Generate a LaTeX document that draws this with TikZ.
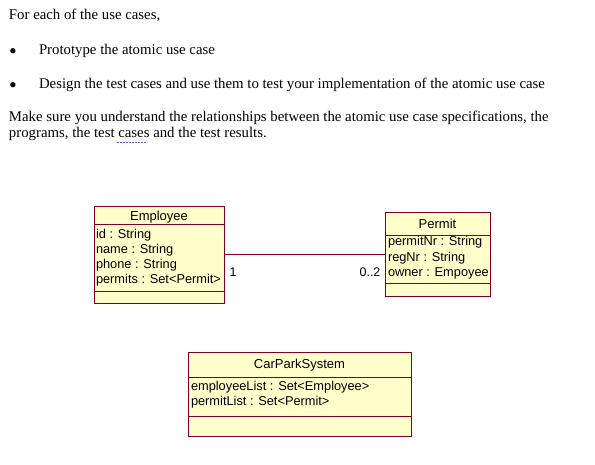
\documentclass[tikz,border=0pt]{standalone}
\usepackage{fontspec}
\setmainfont{Liberation Serif}
\newfontfamily\umlfont{Liberation Sans}
\definecolor{umlred}{RGB}{128,0,32}
\definecolor{umlfill}{RGB}{255,255,204}
\definecolor{spellblue}{RGB}{90,90,240}
\tikzset{
  bodytext/.style={inner sep=0pt,outer sep=0pt,anchor=base west,font=\fontsize{14.8}{17}\selectfont},
  bulletmark/.style={inner sep=0pt,outer sep=0pt,anchor=base west,font=\fontsize{22}{22}\selectfont},
  classbox/.style={draw=umlred,fill=umlfill,line width=0.8pt,inner sep=0pt,outer sep=0pt,anchor=north west},
  classrule/.style={draw=umlred,line width=0.8pt},
  classname/.style={inner sep=0pt,outer sep=0pt,anchor=base,font=\umlfont\fontsize{13}{15}\selectfont},
  attr/.style={inner sep=0pt,outer sep=0pt,anchor=base west,font=\umlfont\fontsize{12.8}{15}\selectfont},
  multlabel/.style={inner sep=0pt,outer sep=0pt,anchor=base,font=\umlfont\fontsize{12.5}{15}\selectfont}
}
\begin{document}
\begin{tikzpicture}[x=1pt,y=-1pt]
\path[use as bounding box] (0,0) rectangle (595,465);
% instructions
\node[bodytext] (intro) at (9,20) {For each of the use cases,};
\node[bulletmark] (bulletA) at (9.2,58.5) {•};
\node[bodytext] (stepA) at (39,55) {Prototype the atomic use case};
\node[bulletmark] (bulletB) at (9.2,92.5) {•};
\node[bodytext] (stepB) at (39,89) {Design the test cases and use them to test your implementation of the atomic use case};
\node[bodytext] (noteA) at (9,122) {Make sure you understand the relationships between the atomic use case specifications, the};
\node[bodytext] (noteB) at (9,138) {programs, the test cases and the test results.};
\draw[spellblue,dash pattern=on 2pt off 1pt,line width=1.1pt] (117,142.5) -- (147,142.5);
% Employee class
\node[classbox,minimum width=130pt,minimum height=97pt] (employee) at (94,206) {};
\draw[classrule] (94,224.5) -- (224,224.5);
\draw[classrule] (94,291.5) -- (224,291.5);
\node[classname] (employeeName) at (159,221) {Employee};
\node[attr] (empId) at (96,238.5) {id : String};
\node[attr] (empName) at (96,253.5) {name : String};
\node[attr] (empPhone) at (96,268.5) {phone : String};
\node[attr] (empPermits) at (96,283.5) {permits : Set<Permit>};
% Permit class
\node[classbox,minimum width=105pt,minimum height=84pt] (permit) at (385,212.5) {};
\draw[classrule] (385,235) -- (490,235);
\draw[classrule] (385,283) -- (490,283);
\node[classname] (permitName) at (437.5,229) {Permit};
\node[attr] (permitNr) at (388,246) {permitNr : String};
\node[attr] (permitReg) at (388,261.5) {regNr : String};
\node[attr] (permitOwner) at (388,276.5) {owner : Empoyee};
% association
\draw[classrule] (employee.east) -- (employee.east -| permit.west);
\node[multlabel] (multOne) at (233,277) {1};
\node[multlabel] (multMany) at (370,276.5) {0..2};
% CarParkSystem class
\node[classbox,minimum width=223pt,minimum height=84pt] (carpark) at (188,352) {};
\draw[classrule] (188,377) -- (411,377);
\draw[classrule] (188,416) -- (411,416);
\node[classname] (carparkName) at (299.5,369) {CarParkSystem};
\node[attr] (cpEmployees) at (191,390.5) {employeeList : Set<Employee>};
\node[attr] (cpPermits) at (191,406) {permitList : Set<Permit>};
\end{tikzpicture}
\end{document}
